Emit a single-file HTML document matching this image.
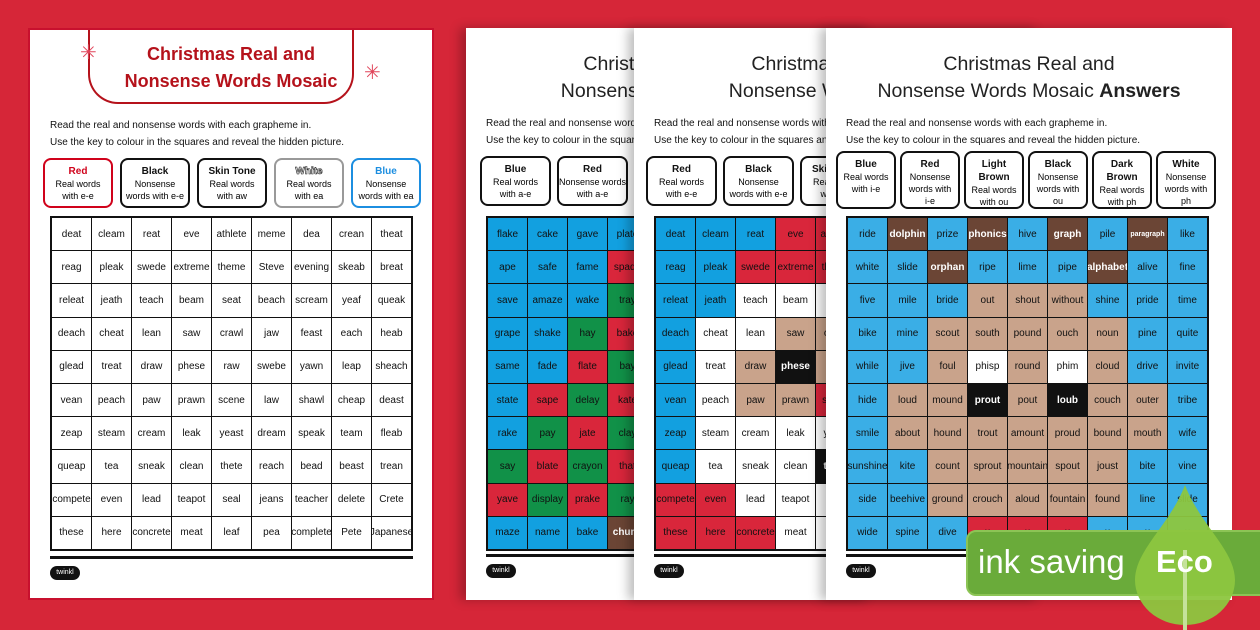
<!DOCTYPE html>
<html><head><meta charset="utf-8">
<style>
*{margin:0;padding:0;box-sizing:border-box}
body{width:1260px;height:630px;background:#d62638;position:relative;overflow:hidden;font-family:"Liberation Sans",sans-serif}
.page{position:absolute;top:28px;width:406px;height:572px;background:#fff;overflow:hidden}
.shadow{box-shadow:-6px 0 10px rgba(0,0,0,.25)}
.grid{position:absolute;left:20px;top:188px;width:363px;height:335px;border:2px solid #111;display:grid;grid-template-columns:repeat(9,1fr);grid-template-rows:repeat(10,1fr);background:#111;gap:1px}
.grid div{display:flex;align-items:center;justify-content:center;font-size:10px;color:#111;white-space:nowrap;overflow:hidden}
.key{position:absolute;top:128px;height:50px;border:2px solid #111;border-radius:8px;font-size:9px;text-align:center;line-height:12px;padding-top:5px;background:#fff;overflow:hidden;white-space:nowrap}
.key b{font-size:10px}
.ins{position:absolute;left:20px;top:87px;font-size:10px;line-height:17px;color:#111}
.title{position:absolute;left:0;width:406px;text-align:center;top:23px;font-size:19.5px;line-height:27px;color:#222}
.foot{position:absolute;left:20px;top:526px;width:363px;height:3px;background:#111}
.logo{position:absolute;left:20px;top:536px;width:30px;height:14px;border-radius:7px;background:#111;color:#fff;font-size:7px;text-align:center;line-height:14px}
</style></head><body>

<div class="page" id="p1" style="left:28px;border:2px solid #c8102e"></div>
<div class="page shadow" id="p2" style="left:466px"></div>
<div class="page shadow" id="p3" style="left:634px"></div>
<div class="page shadow" id="p4" style="left:826px"></div>

<div style="position:absolute;left:966px;top:530px;width:310px;height:66px;background:#6aab3a;border-radius:10px;border:2px solid #8cc455"></div>
<div style="position:absolute;left:978px;top:540px;font-size:33px;color:#fff;line-height:44px">ink saving</div>
<svg style="position:absolute;left:1120px;top:480px" width="130" height="150">
<path d="M65 5 C80 45 115 70 115 100 A50 45 0 0 1 15 100 C15 70 50 45 65 5Z" fill="#8dc63f" opacity=".95"/>
<rect x="63" y="70" width="4" height="80" fill="#c5e29a"/>
</svg>
<div style="position:absolute;left:1156px;top:540px;font-size:31px;font-weight:bold;color:#fff;line-height:44px">Eco</div>

<script>
const C={B:'#3aaee6',b:'#12a0e0',R:'#d9263b',G:'#119148',L:'#c9a38b',D:'#6b4535',K:'#111',W:'#fff'};
function grid(p,words,cols,top){
 const g=document.createElement('div');g.className='grid';if(top!=null)g.style.top=top+'px';
 words.forEach((row,i)=>row.forEach((w,j)=>{const d=document.createElement('div');const c=cols?cols[i][j]:'W';d.style.background=C[c];
 d.style.color=(c=='K'||c=='D')?'#fff':'#111';if(c=='K'||c=='D')d.style.fontWeight='bold';
 if(w.length>8)d.style.fontSize='7px';d.textContent=w;g.appendChild(d);}));
 p.appendChild(g);}
function keys(p,arr,x0,w,gap,top){arr.forEach((k,i)=>{const d=document.createElement('div');d.className='key';d.style.left=(x0+i*(w+gap))+'px';d.style.width=w+'px';if(top!=null){d.style.top=top+'px';d.style.height='58px'}
 d.style.borderColor=k[1]||'#111';d.innerHTML='<b style="color:'+(k[2]||'#111')+'">'+k[0]+'</b><br>'+k[3];p.appendChild(d);});}
function common(p){p.innerHTML+='<div class="ins">Read the real and nonsense words with each grapheme in.<br>Use the key to colour in the squares and reveal the hidden picture.</div><div class="foot"></div><div class="logo">twinkl</div>';}
const w1=[
"deat cleam reat eve athlete meme dea crean theat","reag pleak swede extreme theme Steve evening skeab breat",
"releat jeath teach beam seat beach scream yeaf queak","deach cheat lean saw crawl jaw feast each heab",
"glead treat draw phese raw swebe yawn leap sheach","vean peach paw prawn scene law shawl cheap deast",
"zeap steam cream leak yeast dream speak team fleab","queap tea sneak clean thete reach bead beast trean",
"compete even lead teapot seal jeans teacher delete Crete","these here concrete meat leaf pea complete Pete Japanese"].map(s=>s.split(' '));
const p1=document.getElementById('p1'),p2=document.getElementById('p2'),p3=document.getElementById('p3'),p4=document.getElementById('p4');
p1.innerHTML='<div style="position:absolute;left:58px;top:-4px;width:266px;height:78px;border:2px solid #b5121b;border-top:none;border-radius:0 0 30px 30px"></div>'+
'<div style="position:absolute;left:0;width:402px;top:11px;text-align:center;font-size:18px;font-weight:bold;line-height:27px;color:#b5121b">Christmas Real and<br>Nonsense Words Mosaic</div>'+
'<div style="position:absolute;left:50px;top:10px;color:#e0455a;font-size:20px">✳</div><div style="position:absolute;left:334px;top:30px;color:#e0455a;font-size:20px">✳</div>';
common(p1);
keys(p1,[['Red','#d0021b','#d0021b','Real words<br>with e-e'],['Black','#111','#111','Nonsense<br>words with e-e'],['Skin Tone','#111','#111','Real words<br>with aw'],['White','#999','#fff;-webkit-text-stroke:0.6px #111','Real words<br>with ea'],['Blue','#1c8ee0','#1c8ee0','Nonsense<br>words with ea']],13,70,7);
grid(p1,w1,null,186);
p2.innerHTML='<div class="title">Christmas Real and<br>Nonsense Words Mosaic</div>';common(p2);
keys(p2,[['Blue',0,0,'Real words<br>with a-e'],['Red',0,0,'Nonsense words<br>with a-e'],['Green',0,0,'Real words<br>with ay']],14,71,6);
const w2=["flake cake gave plate a b c d e","ape safe fame spade a b c d e","save amaze wake tray a b c d e","grape shake hay bake a b c d e","same fade flate bay a b c d e","state sape delay kate a b c d e","rake pay jate clay a b c d e","say blate crayon that a b c d e","yave display prake ray a b c d e","maze name bake chunk a b c d e"].map(s=>s.split(' '));
const c2=["bbbbbbbbb","bbbRbbbbb","bbbGbbbbb","bbGRbbbbb","bbRGbbbbb","bRGRbbbbb","bGRGbbbbb","GRGRbbbbb","RGRGbbbbb","bbbDbbbbb"].map(s=>s.split(''));
grid(p2,w2,c2);
p3.innerHTML='<div class="title">Christmas Real and<br>Nonsense Words Mosaic</div>';common(p3);
keys(p3,[['Red',0,0,'Real words<br>with e-e'],['Black',0,0,'Nonsense<br>words with e-e'],['Skin Tone',0,0,'Real words<br>with aw']],12,71,6);
const c3=["bbbRRbbbb","bbRRRbbbb","bbWWWbbbb","bWWLLbbbb","bWLKLbbbb","bWLLRbbbb","bWWWWbbbb","bWWWKbbbb","RRWWWbbbb","RRRWWbbbb"].map(s=>s.split(''));
grid(p3,w1,c3);
p4.innerHTML='<div class="title">Christmas Real and<br>Nonsense Words Mosaic <b>Answers</b></div>';common(p4);
keys(p4,[['Blue',0,0,'Real words<br>with i-e'],['Red',0,0,'Nonsense<br>words with<br>i-e'],['Light<br>Brown',0,0,'Real words<br>with ou'],['Black',0,0,'Nonsense<br>words with<br>ou'],['Dark<br>Brown',0,0,'Real words<br>with ph'],['White',0,0,'Nonsense<br>words with<br>ph']],10,60,4,123);
const w4=["ride dolphin prize phonics hive graph pile paragraph like","white slide orphan ripe lime pipe alphabet alive fine","five mile bride out shout without shine pride time","bike mine scout south pound ouch noun pine quite","while jive foul phisp round phim cloud drive invite","hide loud mound prout pout loub couch outer tribe","smile about hound trout amount proud bound mouth wife","sunshine kite count sprout mountain spout joust bite vine","side beehive ground crouch aloud fountain found line slide","wide spine dive x x x x x x"].map(s=>s.split(' '));
const c4=["BDBDBDBDB","BBDBBBDBB","BBBLLLBBB","BBLLLLLBB","BBLWLWLBB","BLLKLKLLB","BLLLLLLLB","BBLLLLLBB","BBLLLLLBB","BBBRRRBBB"].map(s=>s.split(''));
grid(p4,w4,c4);
</script>
</body></html>
